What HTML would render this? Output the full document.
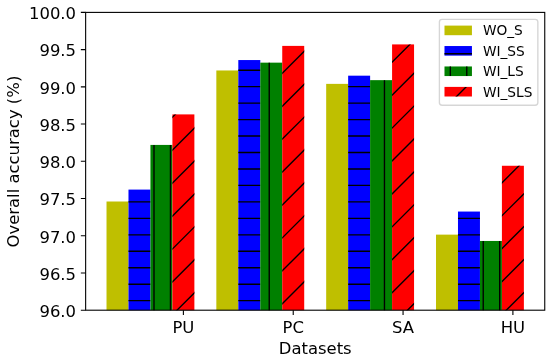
<!DOCTYPE html>
<html><head><meta charset="utf-8"><title>Overall accuracy</title>
<style>
html,body{margin:0;padding:0;background:#fff;}
svg{display:block;}
text{font-family:"DejaVu Sans","Liberation Sans",sans-serif;fill:#000;}
</style></head><body>
<svg width="550" height="357" viewBox="0 0 550 357">
<defs><clipPath id="c1"><rect x="128.48" y="189.59" width="21.97" height="120.61"/></clipPath><clipPath id="c2"><rect x="238.31" y="60.05" width="21.97" height="250.15"/></clipPath><clipPath id="c3"><rect x="348.15" y="75.68" width="21.97" height="234.52"/></clipPath><clipPath id="c4"><rect x="457.98" y="211.55" width="21.97" height="98.65"/></clipPath><clipPath id="c5"><rect x="150.44" y="144.92" width="21.97" height="165.28"/></clipPath><clipPath id="c6"><rect x="260.28" y="62.65" width="21.97" height="247.55"/></clipPath><clipPath id="c7"><rect x="370.11" y="80.15" width="21.97" height="230.05"/></clipPath><clipPath id="c8"><rect x="479.95" y="240.96" width="21.97" height="69.24"/></clipPath><clipPath id="c9"><rect x="172.41" y="114.40" width="21.97" height="195.80"/></clipPath><clipPath id="c10"><rect x="282.24" y="45.90" width="21.97" height="264.30"/></clipPath><clipPath id="c11"><rect x="392.08" y="44.41" width="21.97" height="265.79"/></clipPath><clipPath id="c12"><rect x="501.91" y="165.77" width="21.97" height="144.43"/></clipPath><clipPath id="c13"><rect x="444.49" y="46.03" width="27.44" height="9.60"/></clipPath><clipPath id="c14"><rect x="444.49" y="66.46" width="27.44" height="9.60"/></clipPath><clipPath id="c15"><rect x="444.49" y="86.90" width="27.44" height="9.60"/></clipPath></defs>
<rect width="550" height="357" fill="#fff"/>
<g><rect x="106.51" y="201.50" width="21.97" height="108.70" fill="#bfbf00"/><rect x="216.34" y="70.47" width="21.97" height="239.73" fill="#bfbf00"/><rect x="326.18" y="83.87" width="21.97" height="226.33" fill="#bfbf00"/><rect x="436.01" y="234.63" width="21.97" height="75.57" fill="#bfbf00"/><rect x="128.48" y="189.59" width="21.97" height="120.61" fill="#0000ff"/><path clip-path="url(#c1)" d="M127.48 201.89H151.44M127.48 218.36H151.44M127.48 234.82H151.44M127.48 251.28H151.44M127.48 267.74H151.44M127.48 284.20H151.44M127.48 300.66H151.44" stroke="#000" stroke-width="1.37" fill="none"/><rect x="238.31" y="60.05" width="21.97" height="250.15" fill="#0000ff"/><path clip-path="url(#c2)" d="M237.31 70.20H261.28M237.31 86.66H261.28M237.31 103.12H261.28M237.31 119.59H261.28M237.31 136.05H261.28M237.31 152.51H261.28M237.31 168.97H261.28M237.31 185.43H261.28M237.31 201.89H261.28M237.31 218.36H261.28M237.31 234.82H261.28M237.31 251.28H261.28M237.31 267.74H261.28M237.31 284.20H261.28M237.31 300.66H261.28" stroke="#000" stroke-width="1.37" fill="none"/><rect x="348.15" y="75.68" width="21.97" height="234.52" fill="#0000ff"/><path clip-path="url(#c3)" d="M347.15 86.66H371.11M347.15 103.12H371.11M347.15 119.59H371.11M347.15 136.05H371.11M347.15 152.51H371.11M347.15 168.97H371.11M347.15 185.43H371.11M347.15 201.89H371.11M347.15 218.36H371.11M347.15 234.82H371.11M347.15 251.28H371.11M347.15 267.74H371.11M347.15 284.20H371.11M347.15 300.66H371.11" stroke="#000" stroke-width="1.37" fill="none"/><rect x="457.98" y="211.55" width="21.97" height="98.65" fill="#0000ff"/><path clip-path="url(#c4)" d="M456.98 218.36H480.95M456.98 234.82H480.95M456.98 251.28H480.95M456.98 267.74H480.95M456.98 284.20H480.95M456.98 300.66H480.95" stroke="#000" stroke-width="1.37" fill="none"/><rect x="150.44" y="144.92" width="21.97" height="165.28" fill="#008000"/><path clip-path="url(#c5)" d="M154.00 143.92V311.20M170.46 143.92V311.20" stroke="#000" stroke-width="1.37" fill="none"/><rect x="260.28" y="62.65" width="21.97" height="247.55" fill="#008000"/><path clip-path="url(#c6)" d="M269.23 61.65V311.20" stroke="#000" stroke-width="1.37" fill="none"/><rect x="370.11" y="80.15" width="21.97" height="230.05" fill="#008000"/><path clip-path="url(#c7)" d="M384.46 79.15V311.20" stroke="#000" stroke-width="1.37" fill="none"/><rect x="479.95" y="240.96" width="21.97" height="69.24" fill="#008000"/><path clip-path="url(#c8)" d="M483.23 239.96V311.20M499.69 239.96V311.20" stroke="#000" stroke-width="1.37" fill="none"/><rect x="172.41" y="114.40" width="21.97" height="195.80" fill="#ff0000"/><path clip-path="url(#c9)" d="M170.41 119.24L196.38 93.28M170.41 152.17L196.38 126.20M170.41 185.09L196.38 159.12M170.41 218.01L196.38 192.05M170.41 250.94L196.38 224.97M170.41 283.86L196.38 257.89M170.41 316.78L196.38 290.82" stroke="#000" stroke-width="1.37" fill="none"/><rect x="282.24" y="45.90" width="21.97" height="264.30" fill="#ff0000"/><path clip-path="url(#c10)" d="M280.24 75.26L306.21 49.29M280.24 108.18L306.21 82.21M280.24 141.10L306.21 115.14M280.24 174.03L306.21 148.06M280.24 206.95L306.21 180.98M280.24 239.87L306.21 213.91M280.24 272.80L306.21 246.83M280.24 305.72L306.21 279.75" stroke="#000" stroke-width="1.37" fill="none"/><rect x="392.08" y="44.41" width="21.97" height="265.79" fill="#ff0000"/><path clip-path="url(#c11)" d="M390.08 64.19L416.05 38.22M390.08 97.11L416.05 71.15M390.08 130.04L416.05 104.07M390.08 162.96L416.05 136.99M390.08 195.88L416.05 169.92M390.08 228.81L416.05 202.84M390.08 261.73L416.05 235.76M390.08 294.65L416.05 268.69M390.08 327.58L416.05 301.61" stroke="#000" stroke-width="1.37" fill="none"/><rect x="501.91" y="165.77" width="21.97" height="144.43" fill="#ff0000"/><path clip-path="url(#c12)" d="M499.91 184.82L525.88 158.85M499.91 217.74L525.88 191.78M499.91 250.67L525.88 224.70M499.91 283.59L525.88 257.62M499.91 316.51L525.88 290.55" stroke="#000" stroke-width="1.37" fill="none"/></g>
<path d="M85.64 310.20h-4.80M85.64 272.97h-4.80M85.64 235.75h-4.80M85.64 198.52h-4.80M85.64 161.30h-4.80M85.64 124.07h-4.80M85.64 86.85h-4.80M85.64 49.62h-4.80M85.64 12.40h-4.80M183.39 310.20v4.80M293.23 310.20v4.80M403.06 310.20v4.80M512.90 310.20v4.80" stroke="#000" stroke-width="1.10" fill="none"/>
<rect x="85.64" y="12.40" width="459.11" height="297.80" fill="none" stroke="#000" stroke-width="1.10"/>
<g font-size="16.46"><text x="76.04" y="316.95" text-anchor="end">96.0</text><text x="76.04" y="279.72" text-anchor="end">96.5</text><text x="76.04" y="242.50" text-anchor="end">97.0</text><text x="76.04" y="205.27" text-anchor="end">97.5</text><text x="76.04" y="168.05" text-anchor="end">98.0</text><text x="76.04" y="130.82" text-anchor="end">98.5</text><text x="76.04" y="93.60" text-anchor="end">99.0</text><text x="76.04" y="56.38" text-anchor="end">99.5</text><text x="76.04" y="19.15" text-anchor="end">100.0</text><text x="183.39" y="333.0" text-anchor="middle">PU</text><text x="293.23" y="333.0" text-anchor="middle">PC</text><text x="403.06" y="333.0" text-anchor="middle">SA</text><text x="512.90" y="333.0" text-anchor="middle">HU</text><text x="315.19" y="354.0" text-anchor="middle">Datasets</text><text transform="translate(19.25 161.60) rotate(-90)" text-anchor="middle">Overall accuracy (%)</text></g>
<g><rect x="439.4" y="19.35" width="98.45" height="85.85" rx="2.7" fill="#fff" fill-opacity="0.8" stroke="#ccc" stroke-opacity="0.8" stroke-width="1.37"/><rect x="444.49" y="25.60" width="27.44" height="9.60" fill="#bfbf00"/><text x="482.90" y="35.20" font-size="13.72">WO_S</text><rect x="444.49" y="46.03" width="27.44" height="9.60" fill="#0000ff"/><path clip-path="url(#c13)" d="M443.49 53.74H472.92" stroke="#000" stroke-width="1.37" fill="none"/><text x="482.90" y="55.63" font-size="13.72">WI_SS</text><rect x="444.49" y="66.46" width="27.44" height="9.60" fill="#008000"/><path clip-path="url(#c14)" d="M450.31 65.46V77.07M466.77 65.46V77.07" stroke="#000" stroke-width="1.37" fill="none"/><text x="482.90" y="76.07" font-size="13.72">WI_LS</text><rect x="444.49" y="86.90" width="27.44" height="9.60" fill="#ff0000"/><path clip-path="url(#c15)" d="M442.49 110.55L473.92 79.12" stroke="#000" stroke-width="1.37" fill="none"/><text x="482.90" y="96.50" font-size="13.72">WI_SLS</text></g>
</svg>
</body></html>
